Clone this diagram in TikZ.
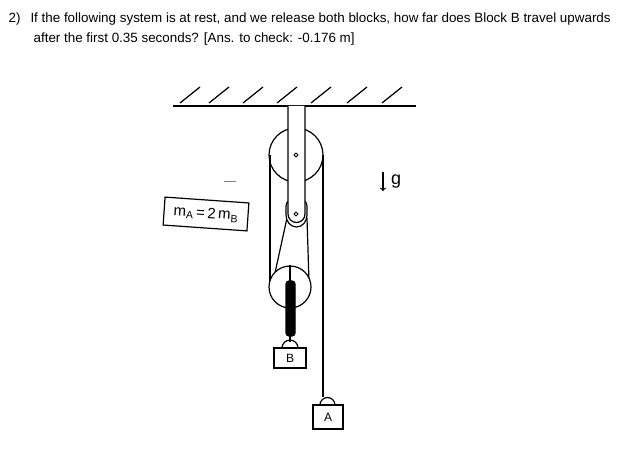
\documentclass[tikz,border=0pt]{standalone}
\usepackage{fontspec}
\setmainfont{Liberation Sans}
\begin{document}
\begin{tikzpicture}[x=1pt,y=-1pt,line width=1.2pt,
  lbl/.style={font=\fontsize{13.4}{15}\selectfont,anchor=west,inner sep=0},
  blk/.style={draw,minimum width=32pt,minimum height=20pt,inner sep=0,font=\fontsize{12}{14}\selectfont}]
\useasboundingbox[fill=white] (0,0) rectangle (626,449);
\node[lbl] (q1) at (8,19) {2)\hspace{10pt}If the following system is at rest, and we release both blocks, how far does Block B travel upwards};
\node[lbl] (q2) at (33,39) {after the first 0.35 seconds? [Ans. to check: -0.176 m]};
% ceiling
\draw (173,106) -- (416,106);
\foreach \x in {180,209,243,277,311,347,382} \draw (\x,103) -- (\x+20,87);
% ropes from small pulley
\draw (287,218) -- (273,282);
\draw (307,218) -- (309,282);
% top pulley
\node[draw,circle,minimum size=54pt,inner sep=0] (P1) at (296,155) {};
\draw (270,155) -- (270,288);
\draw (323,155) -- (323,397);
% lower pulley
\node[draw,circle,fill=white,minimum size=42pt,inner sep=0] (P2) at (290,287) {};
% small pulley
\draw[fill=white] (286,215) arc[start angle=180,end angle=0,x radius=10.5,y radius=12] -- (307,206) arc[start angle=0,end angle=-180,x radius=10.5,y radius=8] -- cycle;
% bar
\draw[fill=white] (288,106) -- (288,214) arc[start angle=180,end angle=0,radius=8.5] -- (305,106);
\node[draw,circle,inner sep=1.4pt,line width=0.9pt] (h1) at (296,155) {};
\node[draw,circle,inner sep=1.4pt,line width=0.9pt] (h2) at (296,214) {};
% inner line of lower pulley
\draw (290,265) -- (290,282);
% rod
\draw[fill=black,rounded corners=3pt] (286,281) rectangle (295,336);
\draw (290,336) -- (290,342);
% block B
\node[blk] (B) at (290,358) {B};
\draw (282,348) arc[start angle=180,end angle=360,radius=8];
% block A
\node[blk,minimum width=30pt,minimum height=24pt] (A) at (328,417) {A};
\draw (320,405) arc[start angle=180,end angle=360,radius=7.5];
% mass box
\node[draw,rotate=-4,minimum width=84pt,minimum height=28pt,inner sep=2pt,font=\fontsize{15}{17}\selectfont] (m) at (206,214) {m\textsubscript{A}\,=\,2\,m\textsubscript{B}};
\draw[gray,line width=0.8pt] (224,181) -- (236,181);
% gravity
\draw[->] (383,172) -- (383,191);
\node[font=\fontsize{18}{20}\selectfont] (g) at (396,182) {g};
\end{tikzpicture}
\end{document}
